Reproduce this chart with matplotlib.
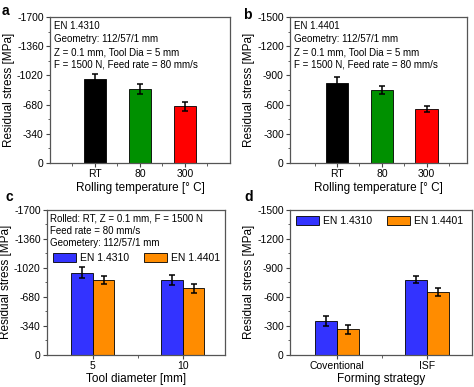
import matplotlib
matplotlib.use("Agg")
import matplotlib.pyplot as plt
import numpy as np
from matplotlib.patches import Patch
from matplotlib.ticker import MultipleLocator

plt.rcParams['font.family'] = ['Liberation Sans', 'DejaVu Sans']
plt.rcParams['axes.unicode_minus'] = False

# Panel a / b data
temps = ['RT', '80', '300']
temp_colors = ['#000000', '#009000', '#ff0000']
a_vals = [-975, -858, -660]
a_err = [65, 58, 55]
b_vals = [-819, -750, -555]
b_err = [68, 44, 33]

# Panel c data
tool_dia = ['5', '10']
c_4310 = [-960, -879]
c_4310_err = [65, 55]
c_4401 = [-879, -779]
c_4401_err = [45, 52]

# Panel d data
strategies = ['Coventional', 'ISF']
d_4310 = [-349, -779]
d_4310_err = [48, 40]
d_4401 = [-264, -650]
d_4401_err = [48, 40]

legend_names = ['EN 1.4310', 'EN 1.4401']
blue = '#3333ff'
orange = '#ff8c00'

fig = plt.figure(figsize=(4.74, 3.87), dpi=100)
ax_a = fig.add_axes([0.1055, 0.5788, 0.3795, 0.3772])
ax_b = fig.add_axes([0.612, 0.5788, 0.373, 0.3772])
ax_c = fig.add_axes([0.099, 0.083, 0.376, 0.375])
ax_d = fig.add_axes([0.612, 0.083, 0.384, 0.375])

tick_fs = 7.5
lab_fs = 8.5
txt_fs = 7

def style(ax, ymax, step):
    ax.set_ylim(0, -ymax)
    ax.set_yticks(np.arange(0, -ymax - 1, -step))
    ax.yaxis.set_minor_locator(MultipleLocator(step / 2))
    ax.tick_params(axis='both', which='major', direction='out', length=3, width=0.8,
                   labelsize=tick_fs, color='#444444', pad=1.5)
    ax.tick_params(axis='both', which='minor', direction='out', length=1.8, width=0.6,
                   color='#444444')
    for s in ax.spines.values():
        s.set_linewidth(0.9)
        s.set_color('#555555')
    ax.set_ylabel('Residual stress [MPa]', fontsize=lab_fs, labelpad=1.5)

ebkw = dict(ecolor='black', elinewidth=1.1, capsize=2.5, capthick=1.1)

# Panel a
xa = np.arange(len(temps))
ax_a.bar(xa, a_vals, width=0.5, color=temp_colors, edgecolor='black', linewidth=0.6,
         yerr=a_err, error_kw=ebkw)
ax_a.set_xlim(-1, 3)
style(ax_a, 1700, 340)
ax_a.set_xticks(xa)
ax_a.set_xticklabels(temps)
ax_a.set_xticks(np.arange(-0.5, 3, 1), minor=True)
ax_a.set_xlabel('Rolling temperature [° C]', fontsize=lab_fs, labelpad=2)
ax_a.text(0.02, 0.97, 'EN 1.4310\nGeometry: 112/57/1 mm\nZ = 0.1 mm, Tool Dia = 5 mm\nF = 1500 N, Feed rate = 80 mm/s',
          transform=ax_a.transAxes, fontsize=txt_fs, va='top', ha='left', linespacing=1.35)

# Panel b
ax_b.bar(xa, b_vals, width=0.5, color=temp_colors, edgecolor='black', linewidth=0.6,
         yerr=b_err, error_kw=ebkw)
ax_b.set_xlim(-1.05, 2.9)
style(ax_b, 1500, 300)
ax_b.set_xticks(xa)
ax_b.set_xticklabels(temps)
ax_b.set_xticks(np.arange(-0.5, 3, 1), minor=True)
ax_b.set_xlabel('Rolling temperature [° C]', fontsize=lab_fs, labelpad=2)
ax_b.text(0.02, 0.97, 'EN 1.4401\nGeometry: 112/57/1 mm\nZ = 0.1 mm, Tool Dia = 5 mm\nF = 1500 N, Feed rate = 80 mm/s',
          transform=ax_b.transAxes, fontsize=txt_fs, va='top', ha='left', linespacing=1.35)

# Panel c
w = 0.24
xc = np.arange(len(tool_dia))
ax_c.bar(xc - w / 2, c_4310, width=w, color=blue, edgecolor='black', linewidth=0.6,
         yerr=c_4310_err, error_kw=ebkw)
ax_c.bar(xc + w / 2, c_4401, width=w, color=orange, edgecolor='black', linewidth=0.6,
         yerr=c_4401_err, error_kw=ebkw)
ax_c.set_xlim(-0.51, 1.47)
style(ax_c, 1700, 340)
ax_c.set_xticks(xc)
ax_c.set_xticklabels(tool_dia)
ax_c.set_xticks([0.5], minor=True)
ax_c.set_xlabel('Tool diameter [mm]', fontsize=lab_fs, labelpad=1)
ax_c.text(0.02, 0.975, 'Rolled: RT, Z = 0.1 mm, F = 1500 N\nFeed rate = 80 mm/s\nGeometery: 112/57/1 mm',
          transform=ax_c.transAxes, fontsize=txt_fs, va='top', ha='left', linespacing=1.3)
handles = [Patch(facecolor=blue, edgecolor='black', linewidth=0.6),
           Patch(facecolor=orange, edgecolor='black', linewidth=0.6)]
ax_c.legend(handles, legend_names, ncol=2, frameon=False, fontsize=txt_fs + 0.5,
            loc='upper left', bbox_to_anchor=(0.0, 0.745), handlelength=2.2, handleheight=0.9,
            handletextpad=0.4, columnspacing=1.4, borderaxespad=0.2)

# Panel d
xd = np.arange(len(strategies))
ax_d.bar(xd - w / 2, d_4310, width=w, color=blue, edgecolor='black', linewidth=0.6,
         yerr=d_4310_err, error_kw=ebkw)
ax_d.bar(xd + w / 2, d_4401, width=w, color=orange, edgecolor='black', linewidth=0.6,
         yerr=d_4401_err, error_kw=ebkw)
ax_d.set_xlim(-0.52, 1.5)
style(ax_d, 1500, 300)
ax_d.set_xticks(xd)
ax_d.set_xticklabels(strategies)
ax_d.set_xticks([0.5], minor=True)
ax_d.set_xlabel('Forming strategy', fontsize=lab_fs, labelpad=1)
ax_d.legend(handles, legend_names, ncol=2, frameon=False, fontsize=txt_fs + 0.5,
            loc='upper left', bbox_to_anchor=(0.0, 1.0), handlelength=2.2, handleheight=0.9,
            handletextpad=0.4, columnspacing=1.4, borderaxespad=0.2)

# Panel letters
fig.text(0.004, 0.99, 'a', fontsize=10, fontweight='bold', va='top')
fig.text(0.512, 0.98, 'b', fontsize=10, fontweight='bold', va='top')
fig.text(0.012, 0.51, 'c', fontsize=10, fontweight='bold', va='top')
fig.text(0.515, 0.51, 'd', fontsize=10, fontweight='bold', va='top')

fig.savefig('out.png', dpi=100)
